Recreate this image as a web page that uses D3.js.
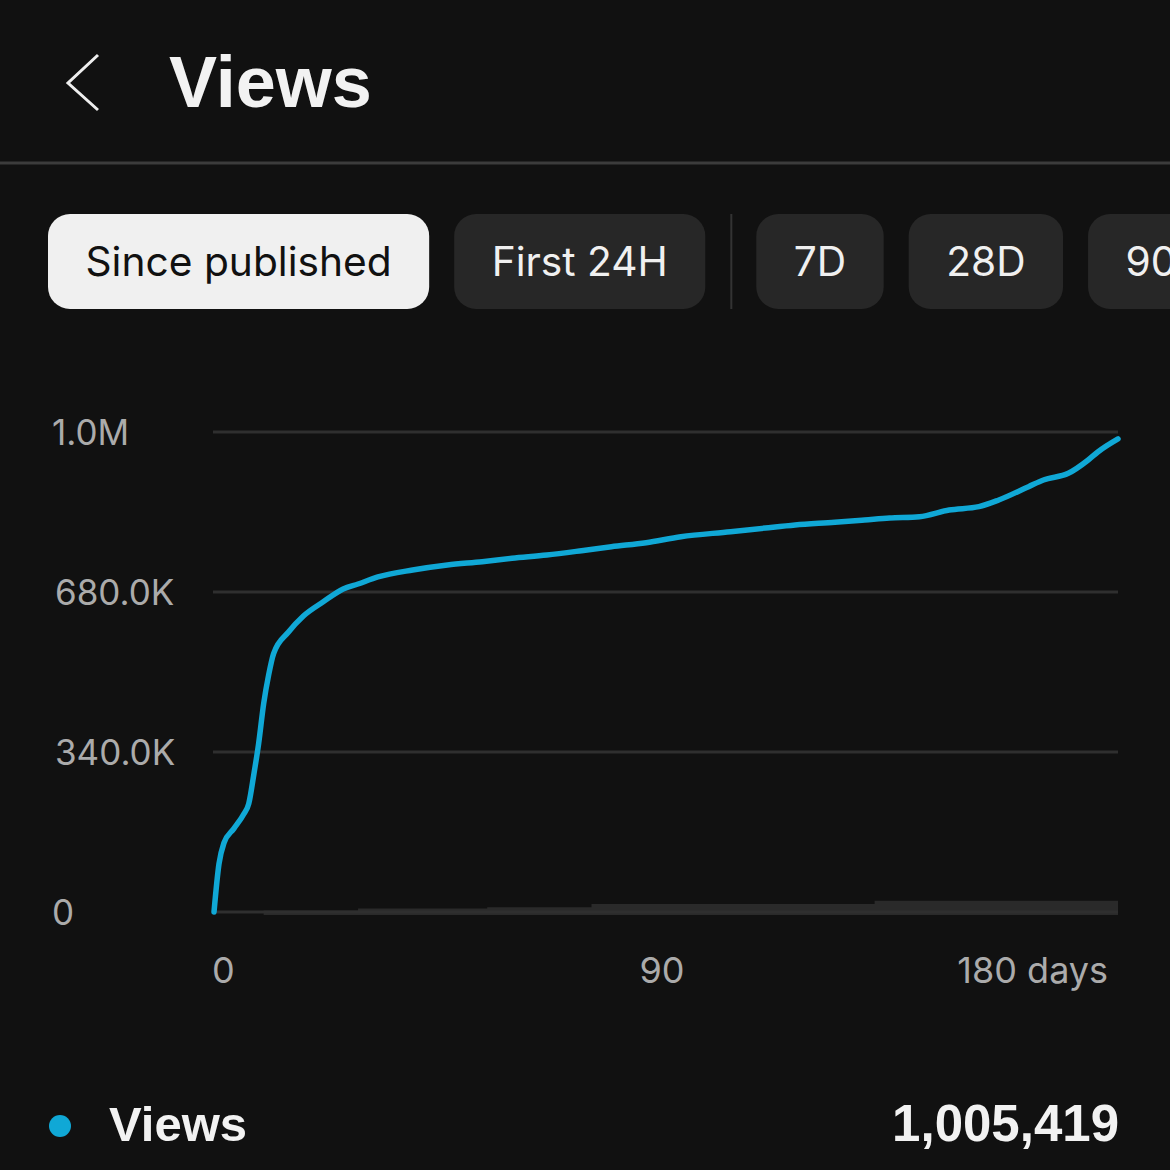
<!DOCTYPE html>
<html>
<head>
<meta charset="utf-8">
<script src="https://cdn.jsdelivr.net/npm/d3@7.9.0/dist/d3.min.js"></script>
<style>
  html, body { margin: 0; padding: 0; background: #111111; }
  svg { display: block; }
</style>
</head>
<body>
<svg id="chart" width="1170" height="1170"></svg>
<script>
// Data
const days = [0, 1, 2, 4, 6, 7, 8, 9, 10, 11, 12, 15, 18, 22, 26, 29, 33, 40, 47, 54, 60, 67, 74, 80, 87, 94, 104, 111, 117, 125, 131, 136, 142, 148, 154, 158, 164, 167, 172, 176, 178, 182];
const views = [0, 102000, 146600, 177200, 208250, 230350, 291100, 359100, 442850, 503600, 549100, 595000, 629000, 659200, 686400, 697000, 711900, 726750, 737400, 744400, 751600, 758600, 767800, 776300, 784800, 797500, 808100, 816000, 822400, 828100, 833000, 837250, 840000, 854250, 861300, 875500, 903800, 918000, 932200, 960500, 978100, 1005419];

// grey comparison band at the bottom (step series)
const bandDays = [10, 29, 29, 55, 55, 76, 76, 133, 133, 182];
const bandViews = [3000, 3000, 7500, 7500, 10000, 10000, 17000, 17000, 24000, 24000];

const yTicks = [0, 340000, 680000, 1020000];
const yTickLabels = ['0', '340.0K', '680.0K', '1.0M'];
const xTicks = [0, 90, 180];
const xTickLabels = ['0', '90', '180 days'];

const ranges = ['Since published', 'First 24H', '7D', '28D', '90D'];
const selectedRange = 'Since published';

const title = 'Views';
const totalViews = 1005419;

const svg = d3.select('#chart');
const lineColor = '#10a8d6';

// Header
svg.append('polyline')
  .attr('points', '98,55 68,83 98,110')
  .attr('fill', 'none')
  .attr('stroke', '#eeeeee')
  .attr('stroke-width', 3);

svg.append('text')
  .attr('x', 169)
  .attr('y', 107)
  .attr('font-family', 'Liberation Sans, Arial, sans-serif')
  .attr('font-weight', 700)
  .attr('font-size', 72)
  .attr('fill', '#f2f2f2')
  .text(title);

svg.append('line')
  .attr('x1', 0).attr('x2', 1170)
  .attr('y1', 163).attr('y2', 163)
  .attr('stroke', '#3c3c3c')
  .attr('stroke-width', 3);

// Range buttons
const pillY = 214, pillH = 95, pad = 37.5, gap = 25;
let px = 48;
ranges.forEach((label, i) => {
  const g = svg.append('g');
  const isSel = label === selectedRange;
  const t = g.append('text')
    .attr('y', pillY + pillH / 2)
    .attr('dominant-baseline', 'central')
    .attr('font-family', 'Inter, sans-serif')
    .attr('font-size', 40.7)
    .attr('fill', isSel ? '#111111' : '#f0f0f0')
    .text(label);
  const w = t.node().getComputedTextLength() + pad * 2;
  g.insert('rect', 'text')
    .attr('x', px).attr('y', pillY)
    .attr('width', w).attr('height', pillH)
    .attr('rx', 22)
    .attr('fill', isSel ? '#f0f0f0' : '#272727');
  t.attr('x', px + pad);
  px += w + gap;
  // separator after the "First 24H" pill
  if (i === 1) {
    svg.append('line')
      .attr('x1', px + 1).attr('x2', px + 1)
      .attr('y1', pillY).attr('y2', pillY + pillH)
      .attr('stroke', '#333333')
      .attr('stroke-width', 2);
    px += 26;
  }
});

// Chart scales
const x = d3.scaleLinear().domain([0, 182]).range([214, 1118]);
const y = d3.scaleLinear().domain([0, 1020000]).range([912, 432]);

// grey band
const bandData = bandDays.map((d, i) => ({ day: d, value: bandViews[i] }));
svg.append('path')
  .datum(bandData)
  .attr('d', d3.area()
    .x(d => x(d.day))
    .y0(y(0) + 3)
    .y1(d => y(d.value)))
  .attr('fill', '#2a2a2a');

// gridlines
svg.append('g')
  .selectAll('line')
  .data(yTicks)
  .join('line')
  .attr('x1', x(0) - 1).attr('x2', x(182))
  .attr('y1', d => y(d)).attr('y2', d => y(d))
  .attr('stroke', '#2f2f2f')
  .attr('stroke-width', 3);

// y labels
svg.append('g')
  .selectAll('text')
  .data(yTicks)
  .join('text')
  .attr('x', (d, i) => i === 0 || i === 3 ? 52 : 55)
  .attr('y', d => y(d))
  .attr('dominant-baseline', 'central')
  .attr('font-family', 'Inter, sans-serif')
  .attr('font-size', 35)
  .attr('fill', '#ababab')
  .text((d, i) => yTickLabels[i]);

// x labels
svg.append('g')
  .selectAll('text')
  .data(xTicks)
  .join('text')
  .attr('x', (d, i) => i === 0 ? x(d) - 2 : (i === 2 ? x(d) : x(d) + 1))
  .attr('y', 983)
  .attr('text-anchor', (d, i) => i === 0 ? 'start' : (i === 2 ? 'end' : 'middle'))
  .attr('font-family', 'Inter, sans-serif')
  .attr('font-size', 36)
  .attr('fill', '#ababab')
  .text((d, i) => xTickLabels[i]);

// views line
const lineData = days.map((d, i) => ({ day: d, value: views[i] }));
svg.append('path')
  .datum(lineData)
  .attr('d', d3.line()
    .x(d => x(d.day))
    .y(d => y(d.value))
    .curve(d3.curveMonotoneX))
  .attr('fill', 'none')
  .attr('stroke', lineColor)
  .attr('stroke-width', 5.5)
  .attr('stroke-linejoin', 'round')
  .attr('stroke-linecap', 'round');

// Legend row
svg.append('circle')
  .attr('cx', 60).attr('cy', 1126)
  .attr('r', 11)
  .attr('fill', lineColor);

svg.append('text')
  .attr('x', 109)
  .attr('y', 1141)
  .attr('font-family', 'Liberation Sans, Arial, sans-serif')
  .attr('font-weight', 700)
  .attr('font-size', 49)
  .attr('fill', '#f2f2f2')
  .text(title);

svg.append('text')
  .attr('x', 1119)
  .attr('y', 1141)
  .attr('text-anchor', 'end')
  .attr('font-family', 'Liberation Sans, Arial, sans-serif')
  .attr('font-weight', 700)
  .attr('font-size', 51)
  .attr('fill', '#f2f2f2')
  .text(d3.format(',')(totalViews));
</script>
</body>
</html>
